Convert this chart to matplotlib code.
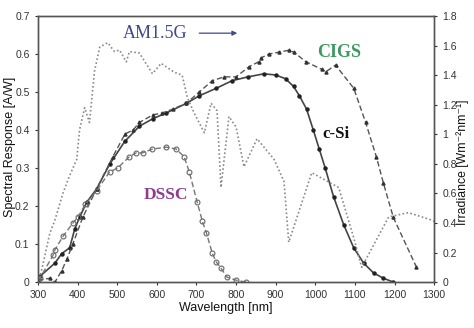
import numpy as np
import matplotlib.pyplot as plt

# AM1.5G solar irradiance (right axis)
am_wl = [300, 305, 330, 343, 363, 380, 393, 398, 405, 418, 430, 443, 456, 476, 493,
         506, 523, 531, 556, 589, 611, 644, 664, 677, 695, 720, 737, 752, 762, 782,
         800, 820, 853, 896, 921, 933, 991, 1059, 1097, 1117, 1185, 1235, 1293, 1300]
am_irr = [0.0, 0.03, 0.33, 0.42, 0.60, 0.72, 0.80, 0.83, 1.03, 1.18, 1.08, 1.43, 1.59, 1.62, 1.56,
          1.57, 1.49, 1.56, 1.55, 1.41, 1.48, 1.42, 1.40, 1.25, 1.14, 1.01, 1.21, 1.16, 0.64, 1.12,
          1.05, 0.78, 0.97, 0.83, 0.68, 0.27, 0.74, 0.64, 0.30, 0.10, 0.44, 0.47, 0.42, 0.41]

# crystalline silicon
csi_wl = [300, 305, 343, 360, 380, 393, 405, 423, 448, 481, 519, 556, 590, 624, 674, 707,
          750, 790, 830, 870, 900, 925, 945, 960, 978, 995, 1010, 1025, 1046, 1072, 1097,
          1122, 1147, 1172, 1197]
csi = [0.01, 0.015, 0.05, 0.075, 0.09, 0.14, 0.17, 0.21, 0.245, 0.31, 0.37, 0.41, 0.43, 0.445, 0.47, 0.49,
       0.51, 0.53, 0.54, 0.548, 0.545, 0.535, 0.515, 0.49, 0.455, 0.40, 0.35, 0.30, 0.225, 0.15, 0.09,
       0.05, 0.024, 0.01, 0.0]

# CIGS
cigs_wl = [300, 330, 343, 360, 373, 388, 413, 448, 489, 520, 540, 556, 590, 614, 640, 674, 707,
           740, 770, 800, 833, 858, 863, 883, 908, 933, 946, 976, 1016, 1026, 1051, 1097, 1127,
           1154, 1172, 1197, 1255]
cigs = [0.005, 0.01, 0.0, 0.03, 0.06, 0.10, 0.17, 0.245, 0.33, 0.39, 0.40, 0.42, 0.44, 0.445, 0.455, 0.47, 0.50,
        0.53, 0.54, 0.54, 0.567, 0.58, 0.59, 0.60, 0.605, 0.61, 0.605, 0.58, 0.56, 0.553, 0.571, 0.51, 0.42,
        0.33, 0.26, 0.17, 0.04]

# dye-sensitised solar cell
dssc_wl = [300, 305, 338, 343, 363, 388, 400, 420, 448, 481, 501, 531, 548, 564, 589, 624, 649,
           669, 682, 702, 715, 725, 740, 750, 762, 777, 800, 825]
dssc = [0.005, 0.01, 0.07, 0.085, 0.12, 0.155, 0.17, 0.205, 0.24, 0.29, 0.30, 0.33, 0.34, 0.34, 0.35, 0.355, 0.35,
        0.33, 0.29, 0.21, 0.16, 0.13, 0.076, 0.053, 0.037, 0.013, 0.005, 0.0]

left_ticks = [0, 0.1, 0.2, 0.3, 0.4, 0.5, 0.6, 0.7]
left_labels = ["0", "0.1", "0.2", "0.3", "0.4", "0.5", "0.6", "0.7"]
right_ticks = [0, 0.2, 0.4, 0.6, 0.8, 1.0, 1.2, 1.4, 1.6, 1.8]
right_labels = ["0", "0.2", "0.4", "0.6", "0.8", "1", "1.2", "1.4", "1.6", "1.8"]
x_ticks = list(range(300, 1301, 100))

plt.rcParams['font.family'] = ['Liberation Sans', 'DejaVu Sans']

fig = plt.figure(figsize=(4.74, 3.28), dpi=100)
ax = fig.add_axes([0.080, 0.140, 0.836, 0.811])
ax2 = ax.twinx()

ax2.plot(am_wl, am_irr, ls=(0, (1, 1.4)), color="#8a8a8a", lw=1.2)

ax.plot(csi_wl, csi, "-", color="#444444", lw=1.2, marker="o", ms=2.2, mfc="#222222", mec="#222222")
ax.plot(cigs_wl, cigs, ls=(0, (4, 2)), color="#555555", lw=1.0, marker="^", ms=2.2,
        mfc="#333333", mec="#333333")
ax.plot(dssc_wl, dssc, ls=(0, (4, 2)), color="#777777", lw=1.0, marker="o", ms=3.5,
        mfc="none", mec="#666666", mew=0.8)

ax.set_xlim(300, 1300)
ax.set_ylim(0, 0.7)
ax2.set_ylim(0, 1.8)
ax.set_xticks(x_ticks)
ax.set_yticks(left_ticks)
ax.set_yticklabels(left_labels)
ax2.set_yticks(right_ticks)
ax2.set_yticklabels(right_labels)

for a in (ax, ax2):
    a.tick_params(labelsize=7.5, colors="#333333", length=2.5, width=0.8)
    for s in a.spines.values():
        s.set_color("#555555")
        s.set_linewidth(1.0)

ax.set_xlabel("Wavelength [nm]", fontsize=9, color="#111111")
ax.set_ylabel("Spectral Response [A/W]", fontsize=9, color="#111111")
ax2.set_ylabel("Irradiance [Wm\u207b\u00b2nm\u207b\u00b9]", fontsize=8.8, color="#111111")
ax.xaxis.set_label_coords(0.475, -0.075)
ax.yaxis.set_label_coords(-0.056, 0.51)
ax2.yaxis.set_label_coords(1.056, 0.45)

serif = ['Liberation Serif', 'DejaVu Serif']
ax.text(514, 0.655, "AM1.5G", family=serif, fontsize=13, color="#3f4a8e", ha="left", va="center")
ax.annotate("", xy=(810, 0.655), xytext=(700, 0.655),
            arrowprops=dict(arrowstyle="-|>", color="#3f4a8e", lw=0.9, mutation_scale=7))
ax.text(1059, 0.605, "CIGS", family=serif, fontsize=13, fontweight="bold", color="#3c9a5f",
        ha="center", va="center")
ax.text(1018, 0.39, "c-Si", family=serif, fontsize=12, fontweight="bold", color="#111111",
        ha="left", va="center")
ax.text(622, 0.229, "DSSC", family=serif, fontsize=12.5, fontweight="bold", color="#8e3d8e",
        ha="center", va="center")

fig.savefig("out.png", dpi=100)
